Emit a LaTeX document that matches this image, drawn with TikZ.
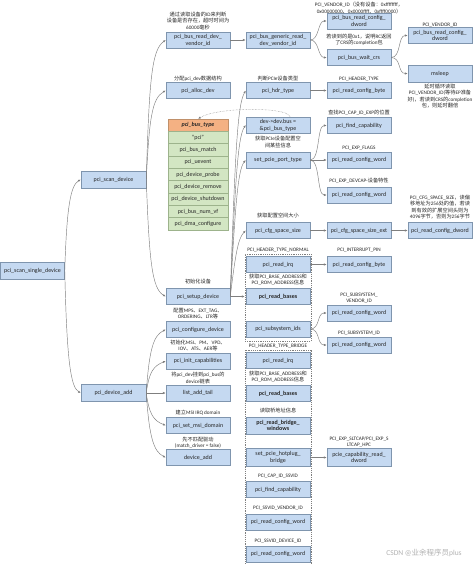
\documentclass[tikz,border=0pt]{standalone}
\usepackage{fontspec}
\setmainfont{Carlito}
\newfontfamily\cjk{Noto Sans CJK SC}
\usetikzlibrary{arrows.meta}
\definecolor{boxfill}{HTML}{C5D9F1}
\definecolor{boxline}{HTML}{7F95AE}
\definecolor{linegray}{HTML}{7F7F7F}
\definecolor{hdrfill}{HTML}{F4B183}
\definecolor{hdrline}{HTML}{C0906A}
\definecolor{rowfill}{HTML}{D3E6C3}
\definecolor{rowline}{HTML}{9DB38C}
\newcommand{\zh}[1]{{\cjk #1}}
\begin{document}
\begin{tikzpicture}[x=1pt,y=-1pt,
  box/.style={draw=boxline, fill=boxfill, line width=0.5pt, minimum width=64pt, minimum height=16pt, inner sep=0.3pt, align=center, text=black!85, font=\fontsize{6}{6.8}\selectfont},
  lab/.style={inner sep=0pt, align=center, text=black!85, font=\fontsize{5.2}{6.2}\selectfont},
  arr/.style={draw=linegray, line width=0.45pt, -{Latex[length=2.8pt,width=2.2pt]}},
  grp/.style={draw=linegray, dash pattern=on 1.2pt off 1pt, line width=0.45pt, minimum width=66pt},
  row/.style={draw=rowline, fill=rowfill, line width=0.4pt, minimum width=60pt, minimum height=12.33pt, inner sep=0pt, text=black!85, font=\fontsize{6}{7}\selectfont},
]
\useasboundingbox (0,0) rectangle (474,565);
\fill[white] (0,0) rectangle (474,565);

% dashed groups
\node[grp, minimum height=87pt] (g1) at (278,297.5) {};
\node[grp, minimum height=218pt] (g2) at (278,459) {};

% column 1
\node[box, minimum height=17pt] (ssd) at (32.5,270.5) {pci\_scan\_single\_device};
\node[box, minimum width=65pt, minimum height=17pt] (scan) at (113.5,179.5) {pci\_scan\_device};
\node[box, minimum width=65pt, minimum height=17pt] (dadd) at (113.5,393) {pci\_device\_add};

% column 2
\node[box] (vid) at (198,40) {pci\_bus\_read\_dev\_\\vendor\_id};
\node[box] (alloc) at (198,90.5) {pci\_alloc\_dev};
\node[row, fill=hdrfill, draw=hdrline] (t0) at (198,125.2) {\textbf{\textit{pci\_bus\_type}}};
\node[row] (t1) at (198,137.5) {"pci"};
\node[row] (t2) at (198,149.8) {pci\_bus\_match};
\node[row] (t3) at (198,162.2) {pci\_uevent};
\node[row] (t4) at (198,174.5) {pci\_device\_probe};
\node[row] (t5) at (198,186.8) {pci\_device\_remove};
\node[row] (t6) at (198,199.2) {pci\_device\_shutdown};
\node[row] (t7) at (198,211.5) {pci\_bus\_num\_vf};
\node[row] (t8) at (198,223.8) {pci\_dma\_configure};
\node[box] (setup) at (198,296.5) {pci\_setup\_device};
\node[box] (conf) at (198,329.5) {pci\_configure\_device};
\node[box] (initcap) at (198,361) {pci\_init\_capabilities};
\node[box] (listadd) at (198,393) {list\_add\_tail};
\node[box] (msi) at (198,425.5) {pci\_set\_msi\_domain};
\node[box] (devadd) at (198,457.5) {device\_add};

\node[lab] (l1) at (198,21) {\zh{通过读取设备的}ID\zh{来判断}\\\zh{设备是否存在，超时时间为}\\60000\zh{毫秒}};
\node[lab] (l2) at (198,79) {\zh{分配}pci\_dev\zh{数据结构}};
\node[lab] (l3) at (198,282) {\zh{初始化设备}};
\node[lab] (l4) at (198,314) {\zh{配置}MPS\zh{、}EXT\_TAG\zh{、}\\ORDERING\zh{、}LTR\zh{等}};
\node[lab] (l5) at (198,345.5) {\zh{初始化}MSI\zh{、}PM\zh{、}VPD\zh{、}\\IOV\zh{、}ATS\zh{、}AER\zh{等}};
\node[lab] (l6) at (198,378) {\zh{将}pci\_dev\zh{挂到}pci\_bus\zh{的}\\device\zh{链表}};
\node[lab] (l7) at (198,413) {\zh{建立}MSI IRQ domain};
\node[lab] (l8) at (198,442.5) {\zh{先不匹配驱动}\\(match\_driver = false)};

% column 3
\node[box] (gen) at (278,40) {pci\_bus\_generic\_read\_\\dev\_vendor\_id};
\node[box] (hdr) at (278,90.5) {pci\_hdr\_type};
\node[box] (dbus) at (278,125) {dev->dev.bus =\\\&pci\_bus\_type};
\node[box] (port) at (278,160) {set\_pcie\_port\_type};
\node[box] (cfgsize) at (278,230.5) {pci\_cfg\_space\_size};
\node[box] (irq1) at (278,264.5) {pci\_read\_irq};
\node[box] (bases1) at (278,296.5) {\textbf{pci\_read\_bases}};
\node[box] (subsys) at (278,329) {pci\_subsystem\_ids};
\node[box] (irq2) at (278,360.5) {pci\_read\_irq};
\node[box] (bases2) at (278,393.5) {\textbf{pci\_read\_bases}};
\node[box, minimum height=17pt] (bwin) at (278,425.5) {\textbf{pci\_read\_bridge\_}\\\textbf{windows}};
\node[box, minimum height=18pt] (hotplug) at (278,457.5) {set\_pcie\_hotplug\_\\bridge};
\node[box] (fcap2) at (278,489.5) {pci\_find\_capability};
\node[box] (rcwa) at (278,522) {pci\_read\_config\_word};
\node[box] (rcwb) at (278,554) {pci\_read\_config\_word};

\node[lab] (m1) at (278,79) {\zh{判断}PCIe\zh{设备类型}};
\node[lab] (m2) at (278,142) {\zh{获取}PCIe\zh{设备配置空}\\\zh{间某些信息}};
\node[lab] (m3) at (278,216) {\zh{获取配置空间大小}};
\node[lab] (m4) at (278,250.5) {PCI\_HEADER\_TYPE\_NORMAL};
\node[lab] (m5) at (278,280) {\zh{获取}PCI\_BASE\_ADDRESS\zh{和}\\PCI\_ROM\_ADDRESS\zh{信息}};
\node[lab] (m6) at (278,346.5) {PCI\_HEADER\_TYPE\_BRIDGE};
\node[lab] (m7) at (278,377) {\zh{获取}PCI\_BASE\_ADDRESS\zh{和}\\PCI\_ROM\_ADDRESS\zh{信息}};
\node[lab] (m8) at (278,411) {\zh{读取桥地址信息}};
\node[lab] (m9) at (278,476) {PCI\_CAP\_ID\_SSVID};
\node[lab] (m10) at (278,508) {PCI\_SSVID\_VENDOR\_ID};
\node[lab] (m11) at (278,541) {PCI\_SSVID\_DEVICE\_ID};

% column 4
\node[box] (dw1) at (359,21) {pci\_bus\_read\_config\_\\dword};
\node[box] (wcrs) at (359,57.5) {pci\_bus\_wait\_crs};
\node[box] (rcb1) at (359,90.5) {pci\_read\_config\_byte};
\node[box] (fcap) at (359,125.5) {pci\_find\_capability};
\node[box] (rcw1) at (359,160) {pci\_read\_config\_word};
\node[box] (rcw2) at (359,195) {pci\_read\_config\_word};
\node[box] (ext) at (359,230.5) {pci\_cfg\_space\_size\_ext};
\node[box] (rcb2) at (359,264.5) {pci\_read\_config\_byte};
\node[box] (rcw3) at (359,313) {pci\_read\_config\_word};
\node[box] (rcw4) at (359,345) {pci\_read\_config\_word};
\node[box, minimum height=18pt] (pcap) at (359,457.5) {pcie\_capability\_read\_\\dword};

\node[lab] (n1) at (359,8) {PCI\_VENDOR\_ID\zh{（没有设备：}0xffffffff\zh{，}\\0x00000000\zh{、}0x0000ffff\zh{、}0xffff0000\zh{）}};
\node[lab] (n2) at (359,39.5) {\zh{若读到的是}0x1\zh{，说明}RC\zh{返回}\\\zh{了}CRS\zh{的}completion\zh{包}};
\node[lab] (n3) at (359,79) {PCI\_HEADER\_TYPE};
\node[lab] (n4) at (359,112.5) {\zh{查找}PCI\_CAP\_ID\_EXP\zh{的位置}};
\node[lab] (n5) at (359,148) {PCI\_EXP\_FLAGS};
\node[lab] (n6) at (359,181) {PCI\_EXP\_DEVCAP-\zh{设备特性}};
\node[lab] (n7) at (359,250) {PCI\_INTERRUPT\_PIN};
\node[lab] (n8) at (359,298) {PCI\_SUBSYSTEM\_\\VENDOR\_ID};
\node[lab] (n9) at (359,333) {PCI\_SUBSYSTEM\_ID};
\node[lab] (n10) at (359,442) {PCI\_EXP\_SLTCAP/PCI\_EXP\_S\\LTCAP\_HPC};

% column 5
\node[box] (dw2) at (440,35.5) {pci\_bus\_read\_config\_\\dword};
\node[box, minimum height=17pt] (msleep) at (440,73.5) {msleep};
\node[box] (cdw) at (440,230.5) {pci\_read\_config\_dword};

\node[lab] (p1) at (440,25) {PCI\_VENDOR\_ID};
\node[lab] (p2) at (440,96) {\zh{延时循环读取}\\PCI\_VENDOR\_ID(\zh{等待}EP\zh{准备}\\\zh{好})\zh{，若读到}CRS\zh{的}completion\\\zh{包，则延时翻倍}};
\node[lab] (p3) at (440,207) {PCI\_CFG\_SPACE\_SIZE\zh{，读偏}\\\zh{移地址为}256\zh{处的值，若读}\\\zh{到有效的扩展空间头则为}\\4096\zh{字节，否则为}256\zh{字节}};

\node[inner sep=0pt, text=black!30, font=\fontsize{7.5}{8}\selectfont] (wm) at (424,553) {CSDN @\zh{业余程序员}plus};

% connectors
\draw[arr] (ssd.east) .. controls +(2,-65) and +(-10,6) .. (scan.west);
\draw[arr] (ssd.east) .. controls +(2,90) and +(-10,-6) .. (dadd.west);

\draw[arr] (scan.east) .. controls +(3,-100) and +(-14,10) .. (vid.west);
\draw[arr] (scan.east) .. controls +(3,-60) and +(-14,8) .. (alloc.west);
\draw[arr] (scan.east) .. controls +(3,80) and +(-14,-8) .. (setup.west);

\draw[arr] (dadd.east) .. controls +(3,-45) and +(-12,6) .. (conf.west);
\draw[arr] (dadd.east) .. controls +(3,-22) and +(-12,5) .. (initcap.west);
\draw[arr] (dadd.east) -- (listadd.west);
\draw[arr] (dadd.east) .. controls +(3,22) and +(-12,-5) .. (msi.west);
\draw[arr] (dadd.east) .. controls +(3,45) and +(-12,-6) .. (devadd.west);

\draw[arr] (setup.east) -- (setup.east -| g1.west);
\draw[arr] (setup.east) .. controls +(5,-150) and +(-8,14) .. (hdr.west);
\draw[arr] (setup.east) .. controls +(5,-115) and +(-8,12) .. (dbus.west);
\draw[arr] (setup.east) .. controls +(5,-90) and +(-8,10) .. (port.west);
\draw[arr] (setup.east) .. controls +(5,-40) and +(-8,8) .. (cfgsize.west);

\draw[arr, densely dotted] ([xshift=12pt]dbus.north) .. controls +(-2,-10) and +(20,-12) .. (t0.north);

\draw[arr] (vid.east) -- (gen.west);
\draw[arr] (gen.east) .. controls +(9,0) and +(-9,0) .. (dw1.west);
\draw[arr] (gen.east) .. controls +(9,0) and +(-9,0) .. (wcrs.west);
\draw[arr] (wcrs.east) .. controls +(10,0) and +(-10,0) .. (dw2.west);
\draw[arr] (wcrs.east) .. controls +(10,0) and +(-10,0) .. (msleep.west);
\draw[arr] (hdr.east) -- (rcb1.west);
\draw[arr] (port.east) .. controls +(10,0) and +(-10,0) .. (fcap.west);
\draw[arr] (port.east) -- (rcw1.west);
\draw[arr] (port.east) .. controls +(10,0) and +(-10,0) .. (rcw2.west);
\draw[arr] (cfgsize.east) -- (ext.west);
\draw[arr] (ext.east) -- (cdw.west);
\draw[arr] (irq1.east) -- (rcb2.west);
\draw[arr] (subsys.east) .. controls +(10,0) and +(-10,0) .. (rcw3.west);
\draw[arr] (subsys.east) .. controls +(10,0) and +(-10,0) .. (rcw4.west);
\draw[arr] (hotplug.east) -- (pcap.west);
\end{tikzpicture}
\end{document}
